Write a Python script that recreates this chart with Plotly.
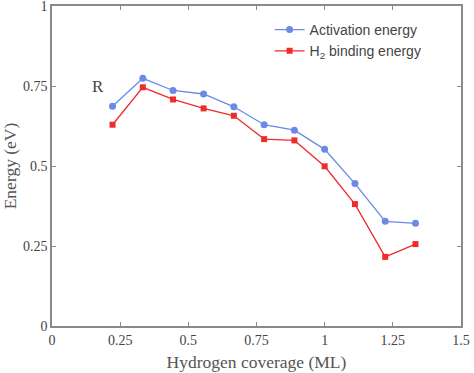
import plotly.graph_objects as go

coverage = [0.222, 0.333, 0.444, 0.556, 0.667, 0.778, 0.889, 1.0, 1.111, 1.222, 1.333]
activation = [0.687, 0.774, 0.736, 0.725, 0.685, 0.629, 0.612, 0.552, 0.445, 0.327, 0.321]
binding = [0.629, 0.746, 0.708, 0.680, 0.657, 0.584, 0.580, 0.499, 0.381, 0.216, 0.256]
tick_vals = [0, 0.25, 0.5, 0.75, 1, 1.25, 1.5]
tick_text = ["0", "0.25", "0.5", "0.75", "1", "1.25", "1.5"]

blue = "#6a8ae6"
red = "#ef2b2b"

fig = go.Figure()
fig.add_trace(go.Scatter(x=coverage, y=activation, mode="lines+markers", name="Activation energy",
                         line=dict(color=blue, width=1.3), marker=dict(symbol="circle", size=7, color=blue)))
fig.add_trace(go.Scatter(x=coverage, y=binding, mode="lines+markers", name="H<sub>2</sub> binding energy",
                         line=dict(color=red, width=1.3), marker=dict(symbol="square", size=6, color=red)))

fig.add_annotation(x=0.169, y=0.75, text="R", showarrow=False, xref="x", yref="y",
                   font=dict(family="Liberation Serif", size=17, color="#444"))

axis_common = dict(showgrid=False, zeroline=False, showline=True, linecolor="#8a8a8a", linewidth=1.5,
                   mirror="ticks", ticks="inside", ticklen=4, tickcolor="#8a8a8a", automargin=False,
                   ticklabeloverflow="allow",
                   tickfont=dict(family="Liberation Serif", size=14, color="#444"))
fig.update_xaxes(range=[0, 1.5], tickvals=tick_vals, ticktext=tick_text,
                 title=dict(text="Hydrogen coverage (ML)", font=dict(family="Liberation Serif", size=17.5, color="#555"), standoff=9),
                 **axis_common)
fig.update_yaxes(range=[0, 1], tickvals=tick_vals[:5], ticktext=tick_text[:5],
                 title=dict(text="Energy (eV)", font=dict(family="Liberation Serif", size=17.5, color="#555"), standoff=2),
                 **axis_common)

fig.update_layout(width=474, height=373, margin=dict(l=52, r=13, t=6, b=47),
                  plot_bgcolor="white", paper_bgcolor="white", showlegend=True,
                  legend=dict(x=0.532, y=0.975, xanchor="left", yanchor="top", bgcolor="rgba(0,0,0,0)",
                              font=dict(family="Liberation Sans", size=14, color="#444"),
                              tracegroupgap=0, itemwidth=30))
fig.write_html("out.html", config={"displayModeBar": False},
               post_script="document.body.style.margin='0px';")
